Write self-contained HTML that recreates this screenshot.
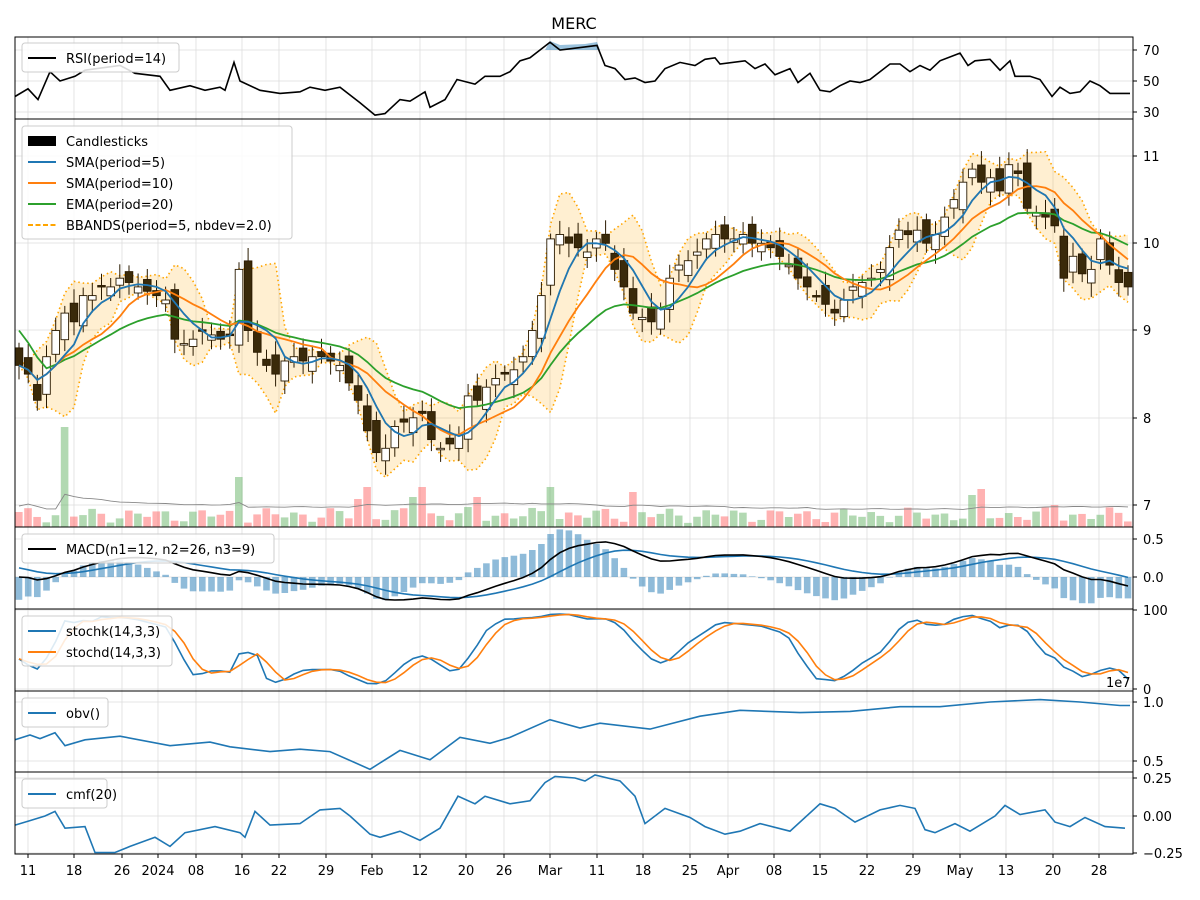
<!DOCTYPE html>
<html><head><meta charset="utf-8"><style>
body{margin:0;background:#fff;}
svg{display:block;font-family:"DejaVu Sans","Liberation Sans",sans-serif;}
</style></head><body>
<svg id="s" width="1200" height="900" xmlns="http://www.w3.org/2000/svg"></svg>
<script>
const C=[8.6,8.5,8.2,8.7,9.0,9.2,9.1,9.4,9.4,9.5,9.5,9.6,9.55,9.5,9.45,9.4,9.35,8.9,8.85,8.9,9.0,8.95,8.9,8.95,9.7,9.0,8.75,8.6,8.5,8.65,8.7,8.65,8.7,8.7,8.65,8.6,8.4,8.2,7.85,7.6,7.65,7.9,7.95,8.0,8.05,7.75,7.65,7.7,7.8,8.25,8.2,8.35,8.45,8.5,8.55,8.7,9.0,9.4,10.05,10.1,10.0,9.95,9.9,10.05,10.0,9.7,9.5,9.2,9.15,9.1,9.25,9.6,9.75,9.8,9.9,10.05,10.1,10.05,10.05,10.1,10.0,10.0,9.95,9.85,9.75,9.6,9.5,9.4,9.3,9.2,9.35,9.5,9.55,9.6,9.7,9.95,10.15,10.1,10.15,10.0,10.1,10.3,10.5,10.7,10.85,10.7,10.75,10.6,10.9,10.8,10.4,10.35,10.3,10.2,9.6,9.85,9.65,9.7,10.05,9.75,9.55,9.5];
const N=C.length, X0=19, DX=(1128-19)/(N-1);
const X=i=>X0+i*DX;
const O=C.map((c,i)=>{if(i==0)return 8.8;let p=C[i-1];let d=Math.sin(i*2.3)*0.12;return p+d;});
const H=C.map((c,i)=>Math.max(c,O[i])+0.06+0.1*Math.abs(Math.sin(i*1.3)));
const L=C.map((c,i)=>Math.min(c,O[i])-0.06-0.1*Math.abs(Math.cos(i*1.1)));
let s='';
const P=(a)=>a.map((p,i)=>(i?'L':'M')+p[0].toFixed(1)+','+p[1].toFixed(1)).join('');
const panels=[[37,119],[119,527],[527,609],[609,691],[691,772],[772,854]];
const xt=[[28,'11'],[74,'18'],[122,'26'],[158,'2024'],[196,'08'],[242,'16'],[279,'22'],[326,'29'],[372,'Feb'],[420,'12'],[466,'20'],[504,'26'],[550,'Mar'],[597,'11'],[643,'18'],[690,'25'],[728,'Apr'],[774,'08'],[820,'15'],[867,'22'],[913,'29'],[960,'May'],[1006,'13'],[1053,'20'],[1099,'28']];
panels.forEach(p=>{xt.forEach(t=>{s+=`<line x1="${t[0]}" x2="${t[0]}" y1="${p[0]}" y2="${p[1]}" stroke="#ddd" stroke-width="0.8"/>`;});});
function hg(ys,p){ys.forEach(y=>s+=`<line x1="15" x2="1133" y1="${y}" y2="${y}" stroke="#ddd" stroke-width="0.8"/>`);}
hg([50,81,112]);hg([156,243,330,418,505]);hg([539,577]);hg([610,689]);hg([702,761]);hg([778,816,853]);
function interp(kp,fy){let pts=[];for(let k=0;k<kp.length;k++)pts.push([kp[k][0],fy(kp[k][1])]);return pts;}
function clip(id,p){s+=`<clipPath id="${id}"><rect x="15" y="${p[0]}" width="1118" height="${p[1]-p[0]}"/></clipPath>`;}
panels.forEach((p,i)=>clip('c'+i,p));
const rk=[[15,40],[28,45],[38,38],[50,56],[60,50],[75,53],[85,57],[120,60],[135,55],[160,53],[170,44],[190,47],[205,44],[220,46],[225,44],[234,62],[240,50],[260,44],[280,42],[300,43],[310,46],[325,44],[340,46],[360,36],[375,28],[385,29],[400,38],[410,37],[425,43],[430,33],[445,38],[457,51],[475,48],[485,53],[500,53],[510,56],[520,63],[530,65],[550,75],[560,70],[585,72],[597,73],[605,60],[615,58],[625,51],[635,52],[645,49],[655,50],[665,58],[680,62],[695,60],[705,64],[715,65],[720,61],[745,63],[755,58],[765,61],[775,54],[790,58],[798,49],[810,55],[820,44],[830,43],[840,47],[850,50],[860,49],[870,51],[880,56],[890,61],[900,61],[910,56],[920,60],[930,57],[940,63],[960,68],[968,60],[975,63],[990,64],[1000,57],[1010,63],[1015,53],[1030,53],[1040,51],[1052,40],[1060,46],[1070,42],[1080,43],[1090,50],[1100,47],[1110,42],[1130,42]];
const ry=v=>81-(v-50)*1.55;
s+=`<path d="M545,50L550,41L560,45L585,44L597,42L600,50Z" fill="#1f77b4" fill-opacity="0.45"/>`;
s+=`<path d="${P(interp(rk,ry))}" fill="none" stroke="#000" stroke-width="1.6"/>`;
const py=v=>505-(v-7)*87.25;
function sma(n){return C.map((c,i)=>{let a=Math.max(0,i-n+1),t=0;for(let k=a;k<=i;k++)t+=C[k];return t/(i-a+1);});}
const s5=sma(5),s10=sma(10);
let e20=[],e=C[0];C.forEach((c,i)=>{e=i?e+(c-e)*2/21:c;e20.push(e);});
e20=e20.map((v,i)=>i<3?v+0.4-0.13*i:v);
const up=[],dn=[];C.forEach((c,i)=>{let a=Math.max(0,i-4),m=s5[i],v=0;for(let k=a;k<=i;k++)v+=(C[k]-m)**2;let sd=Math.sqrt(v/(i-a+1));up.push(m+2*sd);dn.push(m-2*sd);});
const V=C.map((c,i)=>12+5*Math.sin(i*1.7)+3*Math.cos(i*0.9));
[[5,100],[24,50],[38,40],[58,40],[50,30],[37,28],[67,35],[104,32],[105,38],[113,22],[43,30],[44,40]].forEach(a=>V[a[0]]=a[1]);
s+=`<g clip-path="url(#c1)">`;
V.forEach((v,i)=>{let g=C[i]>=O[i];s+=`<rect x="${(X(i)-4).toFixed(1)}" y="${527-v}" width="7.6" height="${v}" fill="${g?'#55aa55':'#ff5555'}" fill-opacity="0.45"/>`;});
s+=`<path d="${P(C.map((c,i)=>{let a=Math.max(0,i-19),t=0;for(let k=a;k<=i;k++)t+=V[k];return [X(i),527-t/(i-a+1)-6];}))}" fill="none" stroke="#888" stroke-width="0.9"/>`;
let band=up.map((v,i)=>[X(i),py(v)]).concat(dn.map((v,i)=>[X(i),py(v)]).reverse());
s+=`<path d="${P(band)}Z" fill="#ffa500" fill-opacity="0.18"/>`;
s+=`<path d="${P(up.map((v,i)=>[X(i),py(v)]))}" fill="none" stroke="#ffa500" stroke-width="1.6" stroke-dasharray="1.5,3"/>`;
s+=`<path d="${P(dn.map((v,i)=>[X(i),py(v)]))}" fill="none" stroke="#ffa500" stroke-width="1.6" stroke-dasharray="1.5,3"/>`;
s+=`<path d="${P(s5.map((v,i)=>[X(i),py(v)]))}" fill="none" stroke="#ffa500" stroke-width="1.6" stroke-dasharray="6,3"/>`;
C.forEach((c,i)=>{let x=X(i),o=O[i],g=c>=o;s+=`<line x1="${x.toFixed(1)}" x2="${x.toFixed(1)}" y1="${py(H[i]).toFixed(1)}" y2="${py(L[i]).toFixed(1)}" stroke="#2a1a00" stroke-width="1"/>`;
let t=py(Math.max(c,o)),b=py(Math.min(c,o));if(b-t<1.5)b=t+1.5;s+=`<rect x="${(x-3.8).toFixed(1)}" y="${t.toFixed(1)}" width="7.6" height="${(b-t).toFixed(1)}" fill="${g?'#fff':'#3a2a0a'}" stroke="#2a1a00" stroke-width="0.9"/>`;});
s+=`<path d="${P(e20.map((v,i)=>[X(i),py(v)]))}" fill="none" stroke="#2ca02c" stroke-width="1.8"/>`;
s+=`<path d="${P(s10.map((v,i)=>[X(i),py(v)]))}" fill="none" stroke="#ff7f0e" stroke-width="1.8"/>`;
s+=`<path d="${P(s5.map((v,i)=>[X(i),py(v)]))}" fill="none" stroke="#1f77b4" stroke-width="1.8"/></g>`;
let e12=C[0],e26=C[0],mac=[],sig=[],sg=0.15;
C.forEach((c,i)=>{e12+=(c-e12)*2/13;e26+=(c-e26)*2/27;let m=e12-e26;mac.push(m);sg=sg+(m-sg)*0.2;sig.push(sg);});
const my=v=>577-v*76;
s+=`<g clip-path="url(#c2)">`;
mac.forEach((m,i)=>{let h=(m-sig[i])*2.5;let y1=my(Math.max(h,0)),y2=my(Math.min(h,0));s+=`<rect x="${(X(i)-3.3).toFixed(1)}" y="${y1.toFixed(1)}" width="6.6" height="${(y2-y1).toFixed(1)}" fill="#1f77b4" fill-opacity="0.5"/>`;});
s+=`<path d="${P(sig.map((v,i)=>[X(i),my(v)]))}" fill="none" stroke="#1f77b4" stroke-width="1.6"/>`;
s+=`<path d="${P(mac.map((v,i)=>[X(i),my(v)]))}" fill="none" stroke="#000" stroke-width="1.6"/></g>`;
let rk2=C.map((c,i)=>{let a=Math.max(0,i-13),hh=-1e9,ll=1e9;for(let k=a;k<=i;k++){hh=Math.max(hh,H[k]);ll=Math.min(ll,L[k]);}return 100*(c-ll)/(hh-ll||1);});
const sm=(a)=>a.map((v,i)=>{let b=Math.max(0,i-2),t=0;for(let k=b;k<=i;k++)t+=a[k];return t/(i-b+1);});
const K=sm(rk2),D=sm(K);const sy=v=>689-v*0.79;
s+=`<g clip-path="url(#c3)"><path d="${P(K.map((v,i)=>[X(i),sy(v)]))}" fill="none" stroke="#1f77b4" stroke-width="1.6"/><path d="${P(D.map((v,i)=>[X(i),sy(v)]))}" fill="none" stroke="#ff7f0e" stroke-width="1.6"/></g>`;
const ok=[[15,0.68],[30,0.72],[40,0.69],[55,0.74],[65,0.63],[85,0.68],[120,0.71],[170,0.63],[210,0.66],[230,0.62],[270,0.58],[300,0.6],[330,0.58],[370,0.43],[400,0.59],[430,0.51],[460,0.7],[490,0.65],[510,0.7],[550,0.85],[580,0.78],[600,0.82],[650,0.77],[700,0.88],[740,0.93],[800,0.91],[850,0.92],[900,0.96],[940,0.96],[990,1.0],[1040,1.02],[1080,1.0],[1120,0.97],[1130,0.97]];
s+=`<path d="${P(interp(ok,v=>702-(v-1)*118))}" fill="none" stroke="#1f77b4" stroke-width="1.6"/>`;
const ck=[[15,-0.06],[30,-0.03],[45,0],[55,0.03],[65,-0.08],[85,-0.07],[95,-0.24],[115,-0.24],[130,-0.2],[155,-0.14],[170,-0.2],[185,-0.11],[215,-0.07],[240,-0.11],[245,-0.14],[255,0.03],[270,-0.06],[300,-0.05],[320,0.04],[340,0.05],[350,0],[370,-0.12],[380,-0.14],[400,-0.1],[420,-0.16],[440,-0.08],[458,0.13],[475,0.08],[485,0.13],[510,0.08],[530,0.1],[545,0.22],[555,0.26],[575,0.25],[585,0.23],[595,0.27],[620,0.23],[635,0.13],[645,-0.05],[665,0.05],[690,-0.01],[705,-0.07],[725,-0.12],[740,-0.1],[760,-0.05],[790,-0.1],[820,0.08],[835,0.05],[855,-0.04],[880,0.04],[900,0.07],[915,0.05],[925,-0.09],[935,-0.11],[955,-0.05],[970,-0.1],[995,0],[1005,0.07],[1020,0.01],[1045,0.04],[1055,-0.04],[1070,-0.07],[1085,-0.01],[1105,-0.07],[1125,-0.08]];
s+=`<path d="${P(interp(ck,v=>816-v*152))}" fill="none" stroke="#1f77b4" stroke-width="1.6"/>`;
panels.forEach(p=>s+=`<rect x="15" y="${p[0]}" width="1118" height="${p[1]-p[0]}" fill="none" stroke="#000" stroke-width="1"/>`);
function yl(arr){arr.forEach(a=>{s+=`<line x1="1133" x2="1137" y1="${a[0]}" y2="${a[0]}" stroke="#000"/><text x="1143" y="${a[0]+5}" font-size="13">${a[1]}</text>`;});}
yl([[50,'70'],[81,'50'],[112,'30'],[156,'11'],[243,'10'],[330,'9'],[418,'8'],[505,'7'],[539,'0.5'],[577,'0.0'],[610,'100'],[689,'0'],[702,'1.0'],[761,'0.5'],[778,'0.25'],[816,'0.00'],[853,'−0.25']]);
s+=`<text x="1106" y="687" font-size="13">1e7</text>`;
xt.forEach(t=>s+=`<line x1="${t[0]}" x2="${t[0]}" y1="854" y2="858" stroke="#000"/><text x="${t[0]}" y="875" font-size="13" text-anchor="middle">${t[1]}</text>`);
s+=`<text x="574" y="29" font-size="16" text-anchor="middle">MERC</text>`;
function leg(x,y,w,items){let h=items.length*21+8;s+=`<rect x="${x}" y="${y}" width="${w}" height="${h}" rx="3" fill="#fff" fill-opacity="0.85" stroke="#ccc"/>`;
items.forEach((it,k)=>{let yy=y+15+k*21;if(it[0]=='box')s+=`<rect x="${x+6}" y="${yy-5}" width="28" height="10" fill="#000"/>`;else s+=`<line x1="${x+6}" x2="${x+34}" y1="${yy}" y2="${yy}" stroke="${it[0]}" stroke-width="2" ${it[2]?'stroke-dasharray="5,2.5"':''}/>`;s+=`<text x="${x+44}" y="${yy+5}" font-size="13">${it[1]}</text>`;});}
leg(22,43,157,[['#000','RSI(period=14)']]);
leg(22,126,270,[['box','Candlesticks'],['#1f77b4','SMA(period=5)'],['#ff7f0e','SMA(period=10)'],['#2ca02c','EMA(period=20)'],['#ffa500','BBANDS(period=5, nbdev=2.0)',1]]);
leg(22,534,252,[['#000','MACD(n1=12, n2=26, n3=9)']]);
leg(22,616,150,[['#1f77b4','stochk(14,3,3)'],['#ff7f0e','stochd(14,3,3)']]);
leg(22,698,86,[['#1f77b4','obv()']]);
leg(22,779,85,[['#1f77b4','cmf(20)']]);
document.getElementById('s').innerHTML=s;
</script>
</body></html>
